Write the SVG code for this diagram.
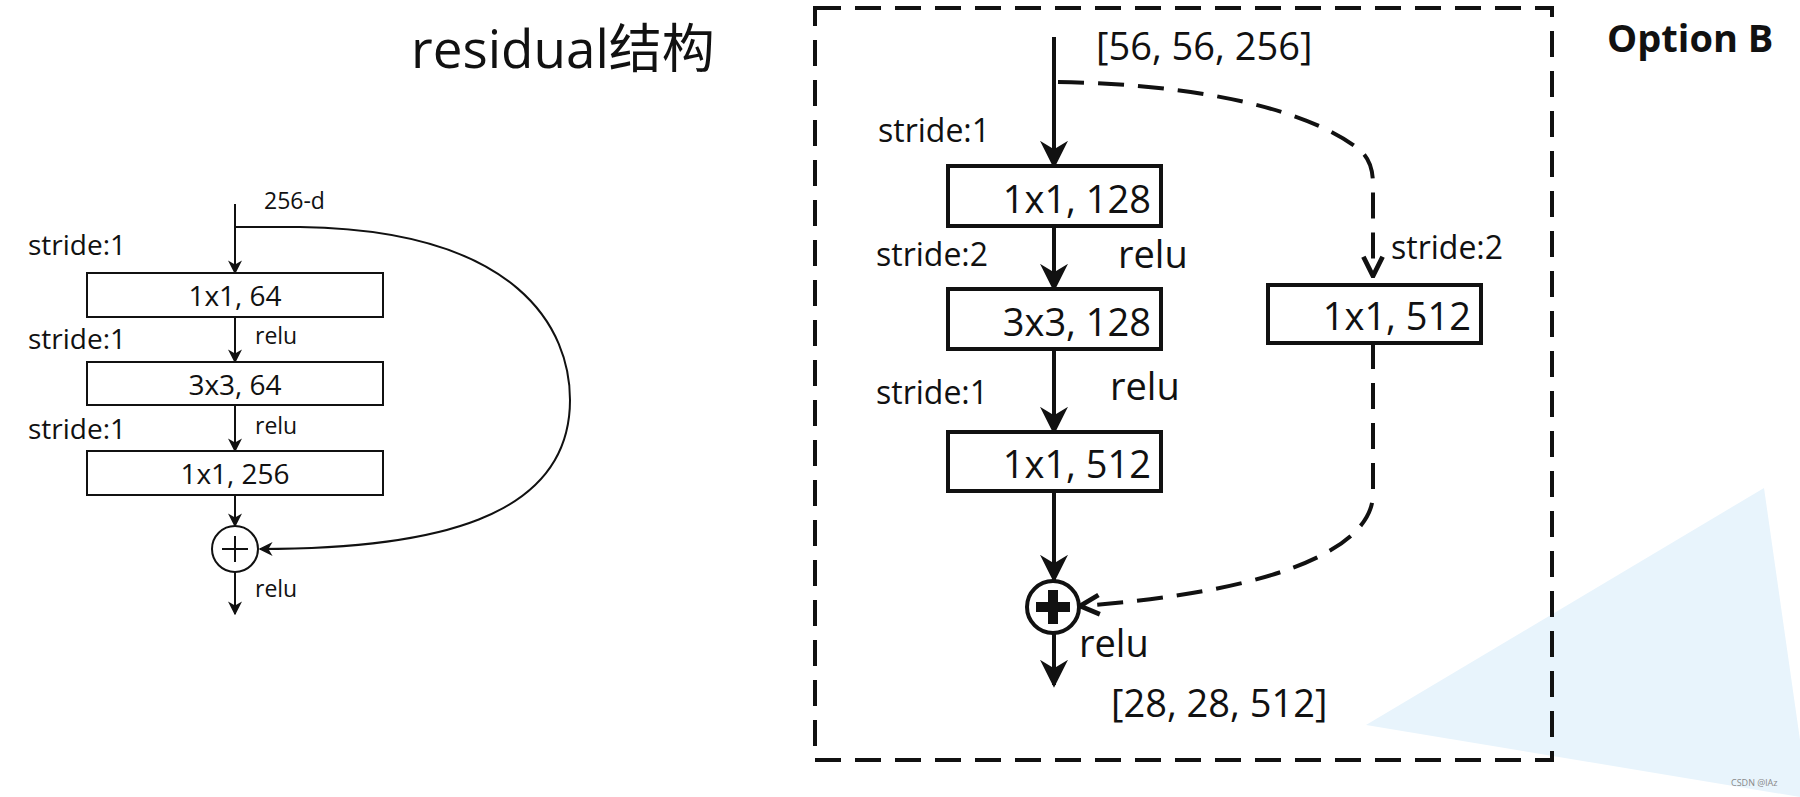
<svg xmlns="http://www.w3.org/2000/svg" width="1800" height="797" viewBox="0 0 1800 797">
<style>
text{font-family:"Open Sans","Liberation Sans",sans-serif;fill:#111}
.box{fill:#fff;stroke:#111;stroke-width:2}
.bbox{fill:#fff;stroke:#111;stroke-width:4}
.ln{fill:none;stroke:#111;stroke-width:2}
.tl{fill:none;stroke:#111;stroke-width:4}
.dash{fill:none;stroke:#111;stroke-width:4;stroke-dasharray:26 14}
.s{font-size:28px}
.r{font-size:23px}
.b{font-size:38px}
.m{font-size:32px}
</style>
<defs>
<marker id="a" viewBox="0 0 10 10" refX="9" refY="5" markerWidth="14" markerHeight="14" markerUnits="userSpaceOnUse" orient="auto"><path d="M0,0 L10,5 L0,10 L3,5 z" fill="#111"/></marker>
<marker id="A" viewBox="0 0 10 10" refX="9" refY="5" markerWidth="7" markerHeight="7" orient="auto"><path d="M0,0 L10,5 L0,10 L3,5 z" fill="#111"/></marker>
<marker id="O" viewBox="0 0 10 10" refX="9" refY="5" markerWidth="6" markerHeight="6" orient="auto"><path d="M1,1 L9,5 L1,9" fill="none" stroke="#111" stroke-width="2"/></marker>
</defs>
<rect width="1800" height="797" fill="#fff"/>
<polygon points="1764,488 1366,725 1800,797 1800,740" fill="#e8f4fc"/>
<text x="411" y="68" font-size="53" style="font-family:'Open Sans','Noto Sans CJK SC',sans-serif">residual结构</text>
<rect x="815" y="8" width="737" height="752" class="dash" stroke-width="4.5"/>
<text x="1607" y="52" font-size="38" font-weight="bold">Option B</text>
<text x="1731" y="786" font-size="9" style="fill:#888">CSDN @lAz</text>

<g id="connectors">
<path class="ln" d="M235,204 V273" marker-end="url(#a)"/>
<path class="ln" d="M235,317 V362" marker-end="url(#a)"/>
<path class="ln" d="M235,405 V451" marker-end="url(#a)"/>
<path class="ln" d="M235,495 V526" marker-end="url(#a)"/>
<path class="ln" d="M235,572 V614" marker-end="url(#a)"/>
<path class="ln" d="M235,227 L300,227 C 520,230 570,330 570,400 C 570,520 430,549 260,549" marker-end="url(#a)"/>
<path class="tl" d="M1054,37 V166" marker-end="url(#A)"/>
<path class="tl" d="M1054,226 V289" marker-end="url(#A)"/>
<path class="tl" d="M1054,349 V432" marker-end="url(#A)"/>
<path class="tl" d="M1054,491 V580" marker-end="url(#A)"/>
<path class="tl" d="M1054,632 V685" marker-end="url(#A)"/>
<path class="dash" d="M1058,82 C 1200,84 1310,110 1360,150 C 1373,162 1373,175 1373,190 V276" marker-end="url(#O)"/>
<path class="dash" d="M1373,343 V494 C 1373,540 1300,590 1080,606" marker-end="url(#O)"/>
</g>

<g id="left-labels">
<text x="264" y="209" class="r">256-d</text>
<text x="28" y="255" class="s">stride:1</text>
<text x="28" y="349" class="s">stride:1</text>
<text x="28" y="439" class="s">stride:1</text>
<text x="255" y="344" class="r">relu</text>
<text x="255" y="434" class="r">relu</text>
<text x="255" y="597" class="r">relu</text>
</g>
<g id="l-box1"><rect class="box" x="87" y="273" width="296" height="44"/><text x="235" y="306" class="s" text-anchor="middle">1x1, 64</text></g>
<g id="l-box2"><rect class="box" x="87" y="362" width="296" height="43"/><text x="235" y="395" class="s" text-anchor="middle">3x3, 64</text></g>
<g id="l-box3"><rect class="box" x="87" y="451" width="296" height="44"/><text x="235" y="484" class="s" text-anchor="middle">1x1, 256</text></g>
<g id="l-add"><circle cx="235" cy="549" r="23" fill="#fff" stroke="#111" stroke-width="2"/><path class="ln" d="M222,549 H248 M235,536 V562"/></g>

<g id="right-labels">
<text x="1096" y="60" class="b">[56, 56, 256]</text>
<text x="878" y="142" class="m">stride:1</text>
<text x="876" y="266" class="m">stride:2</text>
<text x="876" y="404" class="m">stride:1</text>
<text x="1118" y="268" class="b">relu</text>
<text x="1110" y="400" class="b">relu</text>
<text x="1079" y="657" class="b">relu</text>
<text x="1391" y="259" class="m">stride:2</text>
<text x="1111" y="717" class="b">[28, 28, 512]</text>
</g>
<g id="r-box1"><rect class="bbox" x="948" y="166" width="213" height="60"/><text x="1151" y="213" class="b" text-anchor="end">1x1, 128</text></g>
<g id="r-box2"><rect class="bbox" x="948" y="289" width="213" height="60"/><text x="1151" y="336" class="b" text-anchor="end">3x3, 128</text></g>
<g id="r-box3"><rect class="bbox" x="948" y="432" width="213" height="59"/><text x="1151" y="478" class="b" text-anchor="end">1x1, 512</text></g>
<g id="r-box4"><rect class="bbox" x="1268" y="285" width="213" height="58"/><text x="1471" y="330" class="b" text-anchor="end">1x1, 512</text></g>
<g id="r-add"><circle cx="1053" cy="607" r="26" fill="#fff" stroke="#111" stroke-width="4"/><path d="M1053,590 V624 M1036,607 H1070" stroke="#111" stroke-width="10"/></g>
</svg>
